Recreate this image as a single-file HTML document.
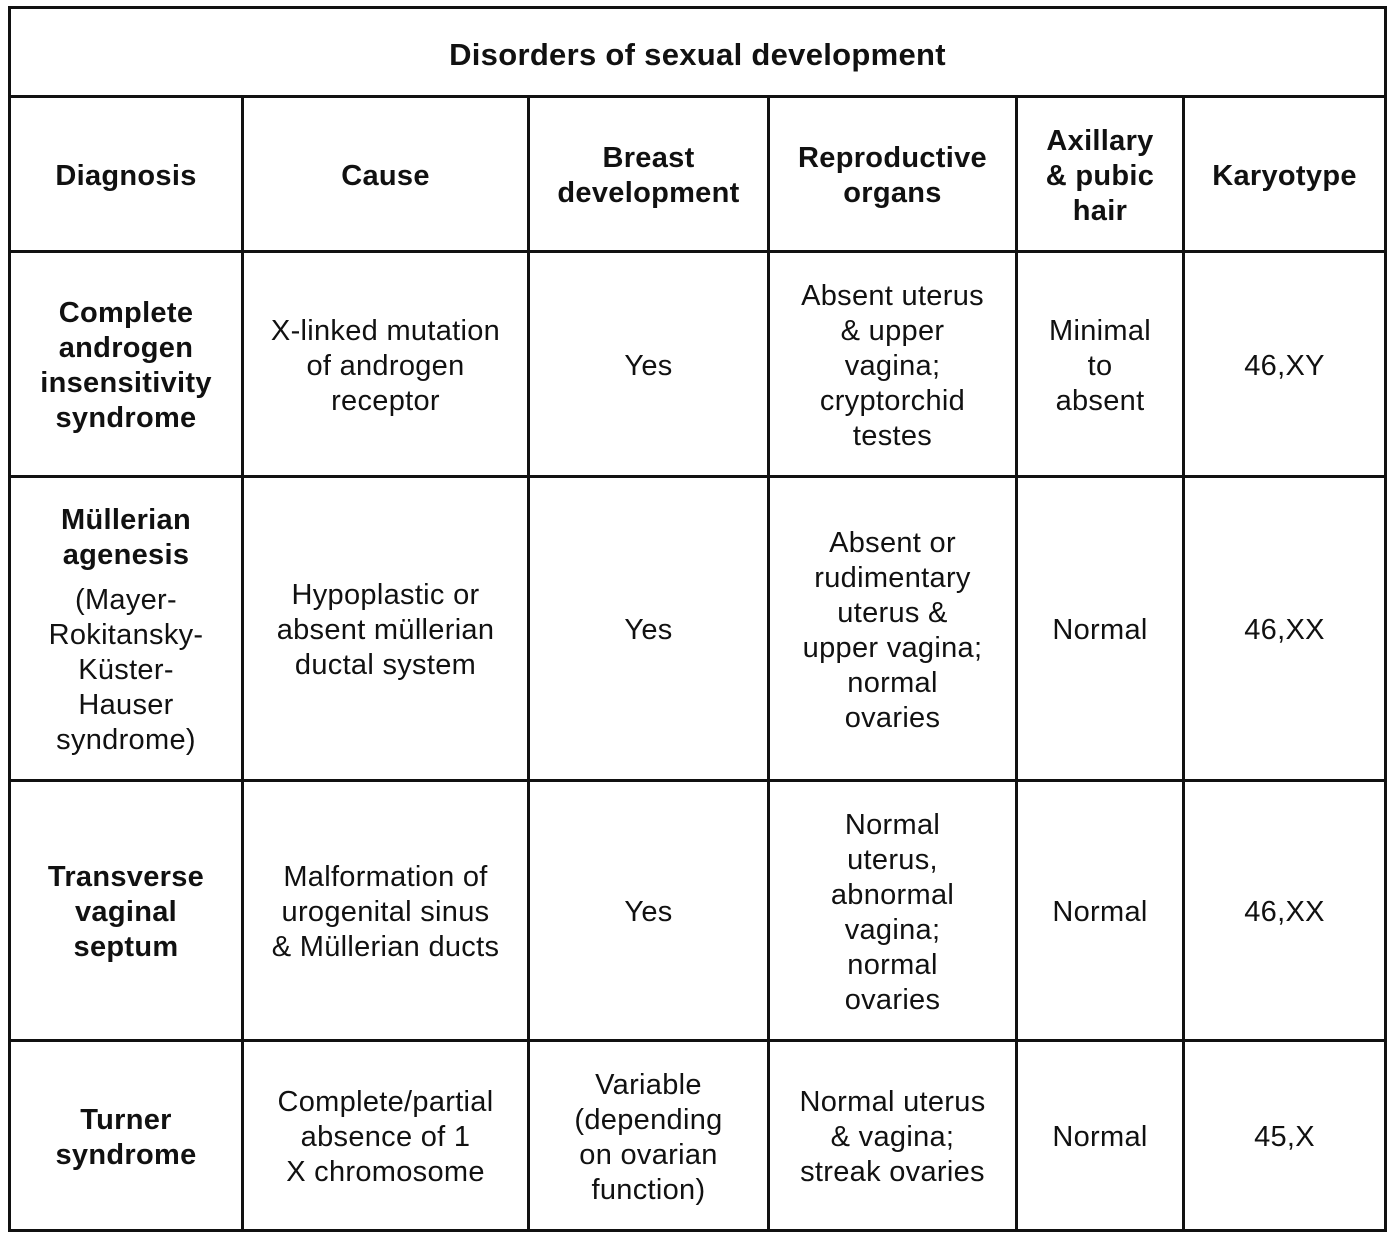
<!DOCTYPE html>
<html><head><meta charset="utf-8"><style>
body{margin:0;width:1390px;height:1238px;background:#fff;position:relative;overflow:hidden;font-family:"Liberation Sans",Arial,sans-serif;color:#111}
.h{position:absolute;height:3px;background:#111}
.v{position:absolute;width:3px;background:#111}
.c{position:absolute;display:flex;align-items:center;justify-content:center;text-align:center;font-size:29px;line-height:35px;letter-spacing:0.3px;padding-top:4px;box-sizing:border-box}
.b{font-weight:bold}
</style></head><body>
<div class="h" style="left:8px;top:6px;width:1379px"></div>
<div class="h" style="left:8px;top:95px;width:1379px"></div>
<div class="h" style="left:8px;top:250px;width:1379px"></div>
<div class="h" style="left:8px;top:475px;width:1379px"></div>
<div class="h" style="left:8px;top:779px;width:1379px"></div>
<div class="h" style="left:8px;top:1039px;width:1379px"></div>
<div class="h" style="left:8px;top:1229px;width:1379px"></div>
<div class="v" style="left:8px;top:6px;height:1226px"></div>
<div class="v" style="left:1384px;top:6px;height:1226px"></div>
<div class="v" style="left:241px;top:95px;height:1137px"></div>
<div class="v" style="left:527px;top:95px;height:1137px"></div>
<div class="v" style="left:767px;top:95px;height:1137px"></div>
<div class="v" style="left:1015px;top:95px;height:1137px"></div>
<div class="v" style="left:1182px;top:95px;height:1137px"></div>

<div class="c b" style="left:11px;top:9px;width:1373px;height:86px;font-size:31px">Disorders of sexual development</div>

<div class="c b" style="left:11px;top:98px;width:230px;height:152px">Diagnosis</div>
<div class="c b" style="left:244px;top:98px;width:283px;height:152px">Cause</div>
<div class="c b" style="left:530px;top:98px;width:237px;height:152px">Breast<br>development</div>
<div class="c b" style="left:770px;top:98px;width:245px;height:152px">Reproductive<br>organs</div>
<div class="c b" style="left:1018px;top:98px;width:164px;height:152px">Axillary<br>&amp; pubic<br>hair</div>
<div class="c b" style="left:1185px;top:98px;width:199px;height:152px">Karyotype</div>

<div class="c b" style="left:11px;top:253px;width:230px;height:222px">Complete<br>androgen<br>insensitivity<br>syndrome</div>
<div class="c" style="left:244px;top:253px;width:283px;height:222px">X-linked mutation<br>of androgen<br>receptor</div>
<div class="c" style="left:530px;top:253px;width:237px;height:222px">Yes</div>
<div class="c" style="left:770px;top:253px;width:245px;height:222px">Absent uterus<br>&amp; upper<br>vagina;<br>cryptorchid<br>testes</div>
<div class="c" style="left:1018px;top:253px;width:164px;height:222px">Minimal<br>to<br>absent</div>
<div class="c" style="left:1185px;top:253px;width:199px;height:222px">46,XY</div>

<div class="c" style="left:11px;top:478px;width:230px;height:301px"><div><b>Müllerian<br>agenesis</b><div style="margin-top:10px">(Mayer-<br>Rokitansky-<br>Küster-<br>Hauser<br>syndrome)</div></div></div>
<div class="c" style="left:244px;top:478px;width:283px;height:301px">Hypoplastic or<br>absent müllerian<br>ductal system</div>
<div class="c" style="left:530px;top:478px;width:237px;height:301px">Yes</div>
<div class="c" style="left:770px;top:478px;width:245px;height:301px">Absent or<br>rudimentary<br>uterus &amp;<br>upper vagina;<br>normal<br>ovaries</div>
<div class="c" style="left:1018px;top:478px;width:164px;height:301px">Normal</div>
<div class="c" style="left:1185px;top:478px;width:199px;height:301px">46,XX</div>

<div class="c b" style="left:11px;top:782px;width:230px;height:257px">Transverse<br>vaginal<br>septum</div>
<div class="c" style="left:244px;top:782px;width:283px;height:257px">Malformation of<br>urogenital sinus<br>&amp; Müllerian ducts</div>
<div class="c" style="left:530px;top:782px;width:237px;height:257px">Yes</div>
<div class="c" style="left:770px;top:782px;width:245px;height:257px">Normal<br>uterus,<br>abnormal<br>vagina;<br>normal<br>ovaries</div>
<div class="c" style="left:1018px;top:782px;width:164px;height:257px">Normal</div>
<div class="c" style="left:1185px;top:782px;width:199px;height:257px">46,XX</div>

<div class="c b" style="left:11px;top:1042px;width:230px;height:187px">Turner<br>syndrome</div>
<div class="c" style="left:244px;top:1042px;width:283px;height:187px">Complete/partial<br>absence of 1<br>X chromosome</div>
<div class="c" style="left:530px;top:1042px;width:237px;height:187px">Variable<br>(depending<br>on ovarian<br>function)</div>
<div class="c" style="left:770px;top:1042px;width:245px;height:187px">Normal uterus<br>&amp; vagina;<br>streak ovaries</div>
<div class="c" style="left:1018px;top:1042px;width:164px;height:187px">Normal</div>
<div class="c" style="left:1185px;top:1042px;width:199px;height:187px">45,X</div>
</body></html>
